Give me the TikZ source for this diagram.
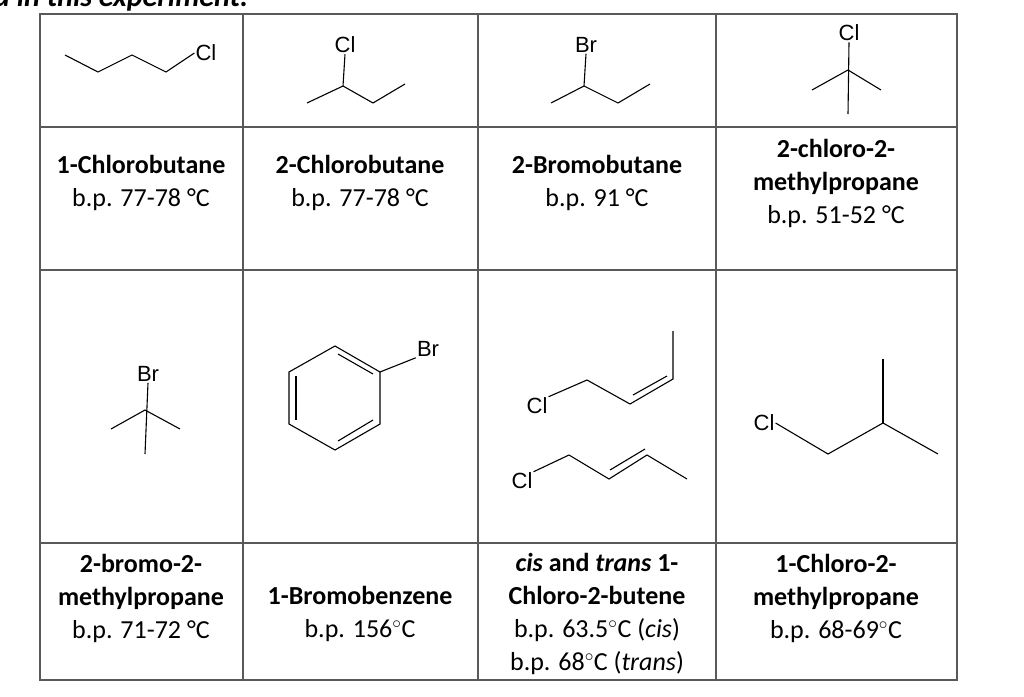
\documentclass[tikz,border=0pt]{standalone}
\usepackage{fontspec}
\setmainfont{Carlito}
\newfontfamily\arialf{Liberation Sans}
\begin{document}
\begin{tikzpicture}[x=1pt,y=-1pt,
  grid/.style={draw=black!65,line width=1.4pt},
  bond/.style={line width=1.1pt,line join=miter},
  atom/.style={font=\arialf\fontsize{22}{22}\selectfont,inner sep=1pt},
  txt/.style={font=\fontsize{26}{33}\selectfont,align=center,inner sep=0pt}]
\clip (0,0) rectangle (1024,696);
\useasboundingbox (0,0) rectangle (1024,696);
\fill[white] (0,0) rectangle (1024,696);
\node[anchor=base west,inner sep=0pt,font=\fontsize{30}{30}\selectfont\bfseries\itshape] (hdr) at (-6,6) {d in this experiment.};
% grid
\draw[grid] (40,14) rectangle (957,680);
\foreach \x in {243,478,716} \draw[grid] (\x,14) -- (\x,680);
\foreach \y in {127,270,543} \draw[grid] (40,\y) -- (957,\y);
% 1-chlorobutane
\node[atom] (c1) at (206,53) {Cl};
\draw[bond] (65,55) -- (98,72) -- (132,55) -- (166,72) -- (c1.west);
% 2-chlorobutane
\node[atom] (c2) at (345,45) {Cl};
\draw[bond] (c2.south) -- (343,86) -- (307,103);
\draw[bond] (343,86) -- (373,103) -- (405,84);
% 2-bromobutane
\node[atom] (b3) at (586,45) {Br};
\draw[bond] (b3.south) -- (584,86) -- (551,103);
\draw[bond] (584,86) -- (618,103) -- (650,84);
% t-BuCl
\node[atom] (c4) at (849,33) {Cl};
\draw[bond] (c4.south) -- (848,114);
\draw[bond] (812,90) -- (848,70) -- (881,90);
% t-BuBr
\node[atom] (b5) at (148,374) {Br};
\draw[bond] (b5.south) -- (145,454);
\draw[bond] (111,429) -- (145,410) -- (180,429);
% bromobenzene
\node[atom] (b6) at (428,349) {Br};
\draw[bond] (335,346) -- (380,372) -- (380,424) -- (335,450) -- (289,424) -- (289,372) -- cycle;
\draw[bond] (338,354) -- (373,374);
\draw[bond] (296,376) -- (296,420);
\draw[bond] (373,420) -- (338,441);
\draw[bond] (380,372) -- (b6.south west);
% cis
\node[atom] (c7) at (537,406) {Cl};
\draw[bond] (c7.north east) -- (587,380) -- (630,404) -- (673,379) -- (673,331);
\draw[bond] (633,395) -- (667,376);
% trans
\node[atom] (c8) at (522,481) {Cl};
\draw[bond] (c8.north east) -- (569,455) -- (609,479) -- (647,455) -- (687,479);
\draw[bond] (610,470) -- (645,449);
% isobutyl
\node[atom] (c9) at (764,423) {Cl};
\draw[bond] (c9.east) -- (828,454) -- (883,423) -- (938,454);
\draw[bond] (883,423) -- (883,359);
% texts row 2
\node[txt] (t1) at (141,183) {\textbf{1-Chlorobutane}\\b.p. 77-78 °C};
\node[txt] (t2) at (360,183) {\textbf{2-Chlorobutane}\\b.p. 77-78 °C};
\node[txt] (t3) at (597,183) {\textbf{2-Bromobutane}\\b.p. 91 °C};
\node[txt] (t4) at (836,183) {\textbf{2-chloro-2-}\\\textbf{methylpropane}\\b.p. 51-52 °C};
% texts row 4
\node[txt] (t5) at (141,598) {\textbf{2-bromo-2-}\\\textbf{methylpropane}\\b.p. 71-72 °C};
\node[txt] (t6) at (360,614) {\textbf{1-Bromobenzene}\\b.p. 156$^{\circ}$C};
\node[txt] (t7) at (597,614) {\textbf{\textit{cis} and \textit{trans} 1-}\\\textbf{Chloro-2-butene}\\b.p. 63.5$^{\circ}$C (\textit{cis})\\b.p. 68$^{\circ}$C (\textit{trans})};
\node[txt] (t8) at (836,598) {\textbf{1-Chloro-2-}\\\textbf{methylpropane}\\b.p. 68-69$^{\circ}$C};
\end{tikzpicture}
\end{document}
